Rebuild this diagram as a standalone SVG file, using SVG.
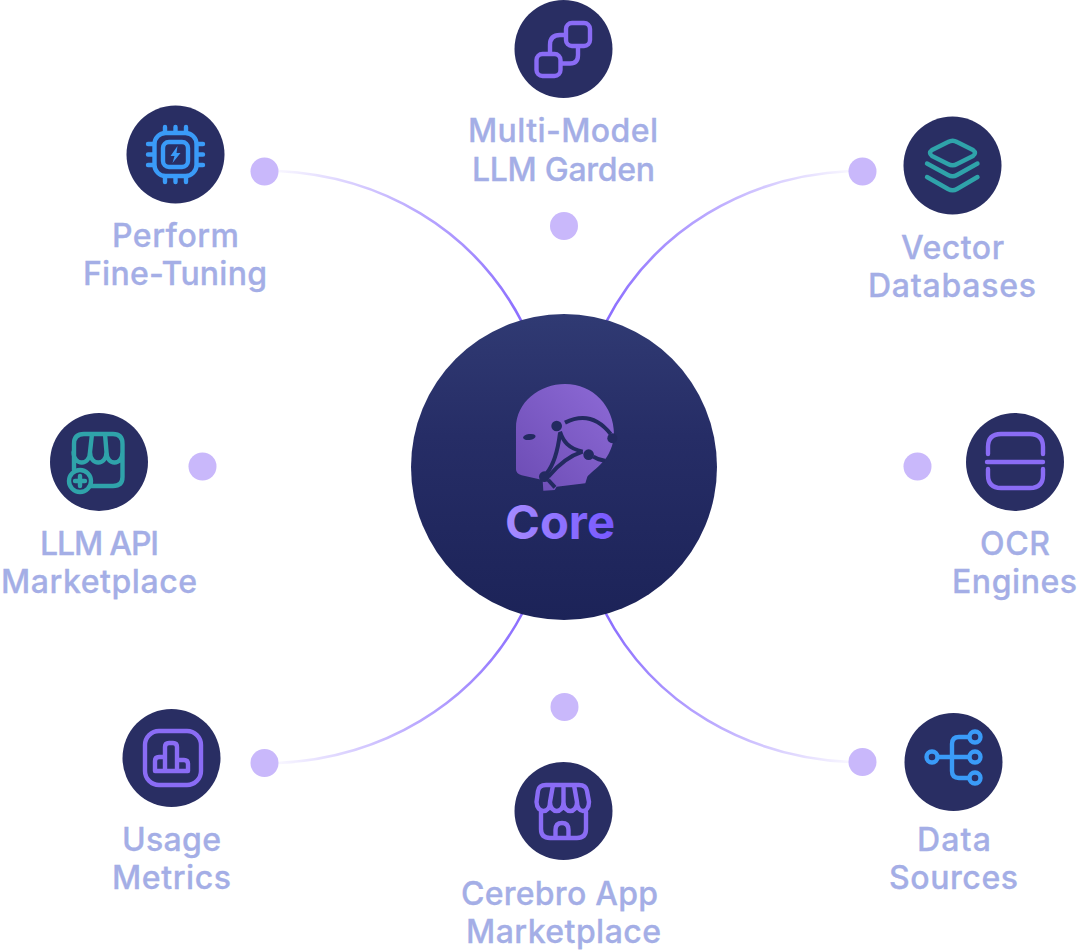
<svg xmlns="http://www.w3.org/2000/svg" width="1080" height="952" viewBox="0 0 1080 952">
<style>
.lb{font-family:Inter,"Noto Sans",sans-serif;font-size:32px;font-weight:500;fill:#a4aee6;text-anchor:middle;stroke:#a4aee6;stroke-width:.3}
.bg{fill:#292e63}
.dot{fill:#c9b8fb}
.i{fill:none;stroke-width:4.4;stroke-linecap:round;stroke-linejoin:round}
.p{stroke:#8a6cf5}.t{stroke:#2fa3aa}.b{stroke:#3a9bf8}
.c{fill:none;stroke-width:2.6}
</style>
<defs>
<linearGradient id="gc" x1="0" y1="0" x2="0" y2="1"><stop offset="0" stop-color="#303a73"/><stop offset=".4" stop-color="#262d66"/><stop offset="1" stop-color="#1c2358"/></linearGradient>
<linearGradient id="gh" x1="0" y1="1" x2="1" y2="0"><stop offset="0" stop-color="#6c4cb4"/><stop offset="1" stop-color="#8d6ad6"/></linearGradient>
<linearGradient id="gt" x1="0" y1="0" x2="1" y2="0"><stop offset="0" stop-color="#a78cff"/><stop offset="1" stop-color="#7657ff"/></linearGradient>
<linearGradient id="l1" gradientUnits="userSpaceOnUse" x1="278" y1="171" x2="522" y2="322"><stop offset="0" stop-color="#8a6cff" stop-opacity=".06"/><stop offset=".45" stop-color="#8a6cff" stop-opacity=".55"/><stop offset="1" stop-color="#8a6cff"/></linearGradient>
<linearGradient id="l2" gradientUnits="userSpaceOnUse" x1="850" y1="171" x2="606" y2="322"><stop offset="0" stop-color="#8a6cff" stop-opacity=".06"/><stop offset=".45" stop-color="#8a6cff" stop-opacity=".55"/><stop offset="1" stop-color="#8a6cff"/></linearGradient>
<linearGradient id="l3" gradientUnits="userSpaceOnUse" x1="278" y1="763" x2="522" y2="614"><stop offset="0" stop-color="#8a6cff" stop-opacity=".06"/><stop offset=".45" stop-color="#8a6cff" stop-opacity=".55"/><stop offset="1" stop-color="#8a6cff"/></linearGradient>
<linearGradient id="l4" gradientUnits="userSpaceOnUse" x1="850" y1="762" x2="606" y2="614"><stop offset="0" stop-color="#8a6cff" stop-opacity=".06"/><stop offset=".45" stop-color="#8a6cff" stop-opacity=".55"/><stop offset="1" stop-color="#8a6cff"/></linearGradient>
</defs>
<g id="connectors">
<path class="c" stroke="url(#l1)" d="M278 171C380 176 474 228 523 324"/>
<path class="c" stroke="url(#l2)" d="M850 171C748 176 654 228 605 324"/>
<path class="c" stroke="url(#l3)" d="M278 763C380 758 474 706 523 612"/>
<path class="c" stroke="url(#l4)" d="M850 762C748 757 654 706 605 612"/>
<circle class="dot" cx="264.500" cy="171.500" r="14"/>
<circle class="dot" cx="564" cy="226" r="14"/>
<circle class="dot" cx="862.500" cy="171.500" r="14"/>
<circle class="dot" cx="202.500" cy="466.500" r="14"/>
<circle class="dot" cx="917.500" cy="466.500" r="14"/>
<circle class="dot" cx="264.500" cy="763" r="14"/>
<circle class="dot" cx="564.500" cy="707" r="14"/>
<circle class="dot" cx="862.500" cy="762" r="14"/>
</g>
<g id="core">
<circle cx="564" cy="467" r="153" fill="url(#gc)"/>
<g transform="translate(400 310) scale(.3333)">
<path fill="url(#gh)" d="M348 478V355C348 275 420 222 495 222C580 222 642 290 642 372C642 405 625 440 608 456C590 476 570 490 562 500L556 520L470 530L464 540L430 542L428 510L365 496Q348 492 348 478Z"/>
<ellipse cx="388" cy="381" rx="19" ry="9" fill="#232a60" transform="rotate(-8 388 381)"/>
<g fill="none" stroke="#232a60" stroke-width="12">
<path d="M495 338C550 310 595 325 632 372"/>
<path d="M480 365C490 395 505 415 548 425"/>
<path d="M480 370C475 410 465 460 440 490"/>
<path d="M548 425C500 440 470 470 445 500"/>
<path d="M580 440Q595 450 615 452"/>
<path d="M445 510L465 532"/>
</g>
<g fill="#232a60"><circle cx="470" cy="348" r="16"/><circle cx="637" cy="385" r="15"/><circle cx="566" cy="434" r="16"/><circle cx="433" cy="500" r="16"/></g>
</g>
<text x="560" y="539" text-anchor="middle" textLength="110" lengthAdjust="spacingAndGlyphs" font-family="Inter,'Noto Sans',sans-serif" font-size="47" font-weight="700" fill="url(#gt)">Core</text>
</g>
<g id="multi-model">
<circle class="bg" cx="563.500" cy="49" r="49"/>
<g class="i p"><rect x="536.500" y="54" width="24" height="22" rx="6"/><rect x="566" y="23" width="24" height="23" rx="6"/><path d="M550 53V45Q550 35 560 35H565M562 63.500H570Q578 63.500 578 55V47"/></g>
<text class="lb" x="563" y="142" textLength="190">Multi-Model</text><text class="lb" x="563.500" y="181" textLength="183">LLM Garden</text>
</g>
<g id="fine-tuning">
<circle class="bg" cx="175.500" cy="154.500" r="49"/>
<g class="i b"><rect x="154.500" y="133" width="42" height="43" rx="11"/><rect x="163" y="142" width="25" height="25" rx="6"/><path d="M165 127V132M175.500 127V132M186 127V132M165 177V182M175.500 177V182M186 177V182M148 144H153M148 154.500H153M148 165H153M198 144H203M198 154.500H203M198 165H203"/></g>
<path d="M177.500 146L170.500 156H174.500L172.500 163L180.500 153H176.500Z" fill="#3a9bf8"/>
<text class="lb" x="175.500" y="247" textLength="127">Perform</text><text class="lb" x="175" y="285" textLength="184">Fine-Tuning</text>
</g>
<g id="vector-databases">
<circle class="bg" cx="952.500" cy="165.500" r="49"/>
<g class="i t"><path d="M948 142Q952.700 139.500 957 142L973 150Q977 153 973 156L957 164Q952.700 166.500 948 164L932 156Q928 153 932 150Z"/><path d="M927 163.500L948 175Q952.700 177.500 957 175L977.500 163.500M927 177L948 189Q952.700 191.500 957 189L977.500 177"/></g>
<text class="lb" x="952.500" y="259" textLength="103">Vector</text><text class="lb" x="952" y="297" textLength="168">Databases</text>
</g>
<g id="llm-api">
<circle class="bg" cx="99" cy="462" r="49"/>
<g class="i t"><path d="M74 470V444Q74 434 84 434H113Q122.500 434 122.500 444V477Q122.500 486 113 486H91M73.500 452C73.500 466 90 466 90 452L92 434M90 452C90 466 106.500 466 106.500 452L105 434M106.500 452C106.500 466 122.500 466 122.500 452"/><circle cx="80" cy="481" r="11"/></g>
<path d="M80 476V486M75 481H85" stroke="#2fa3aa" stroke-width="4.400" stroke-linecap="round"/>
<text class="lb" x="99.500" y="555" textLength="119">LLM API</text><text class="lb" x="99" y="593" textLength="196">Marketplace</text>
</g>
<g id="ocr">
<circle class="bg" cx="1015" cy="462" r="49"/>
<g class="i p"><path d="M988 454V447Q988 434 1001 434H1030Q1043 434 1043 447V454M987 462H1043M988 469V475Q988 488 1001 488H1030Q1043 488 1043 475V469"/></g>
<text class="lb" x="1015" y="555" textLength="70">OCR</text><text class="lb" x="1014.500" y="593" textLength="125">Engines</text>
</g>
<g id="usage">
<circle class="bg" cx="171.500" cy="758" r="49"/>
<g class="i p"><rect x="145" y="731" width="56" height="54" rx="14"/><path d="M155 771V761Q155 757 159 757H165V771ZM165 771V747Q165 743 169 743H173Q177 743 177 747V771ZM177 760H184Q188 760 188 764V771H155"/></g>
<text class="lb" x="171.500" y="851" textLength="99">Usage</text><text class="lb" x="171.500" y="889" textLength="119">Metrics</text>
</g>
<g id="cerebro">
<circle class="bg" cx="563.500" cy="811" r="49"/>
<g class="i p"><path d="M536.500 802C537 814 550 814 550 802C550 814 563.500 814 563.500 802C563.500 814 577 814 577 802C577 814 589 814 589 802L587 791Q586 785 579 785H546Q539 785 538 791ZM550 802L553 785M563.500 802V785M577 802L574 785"/><path d="M541 812V829Q541 838 550 838H577Q586 838 586 829V812M555.500 838V830Q555.500 823 562 823Q568.500 823 568.500 830V838"/></g>
<text class="lb" x="559.500" y="905" textLength="197">Cerebro App</text><text class="lb" x="563.500" y="943" textLength="195">Marketplace</text>
</g>
<g id="data-sources">
<circle class="bg" cx="953.500" cy="762" r="49"/>
<g class="i b"><circle cx="932" cy="757" r="5.500"/><circle cx="975" cy="737" r="5.500"/><circle cx="975" cy="757" r="5.500"/><circle cx="975" cy="778" r="5.500"/><path d="M938 757H969M969 737H959Q952 737 952 744V771Q952 778 959 778H969"/></g>
<text class="lb" x="954" y="851" textLength="74">Data</text><text class="lb" x="953.500" y="889" textLength="129">Sources</text>
</g>
</svg>
